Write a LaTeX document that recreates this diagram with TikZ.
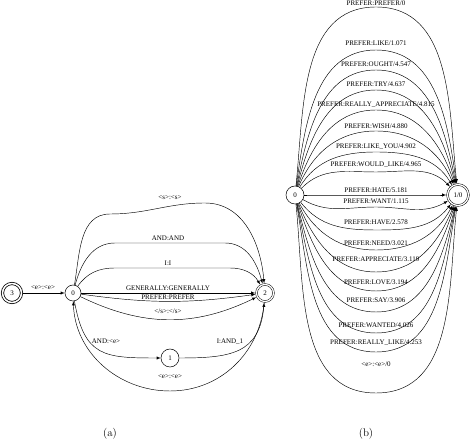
\documentclass[tikz,border=0pt]{standalone}
\usepackage{fontspec}
\newfontfamily\gvfont{Liberation Serif}

\begin{document}
\begin{tikzpicture}[
        x=1pt, y=1pt,
        state/.style={draw, circle, inner sep=0pt, minimum size=16pt, line width=0.5pt,
                      font=\gvfont\fontsize{7}{8}\selectfont},
        final/.style={state, double, double distance=1.3pt, outer sep=1.2pt, minimum size=17pt},
        start/.style={final, line width=0.8pt, double distance=1.5pt, outer sep=1.6pt, minimum size=19pt},
        trans/.style={draw, -latex, line width=0.45pt},
        lbl/.style={inner sep=0pt, font=\gvfont\fontsize{7}{8}\selectfont}
      ]
      \useasboundingbox (0,0) rectangle (474,444);

      % (a)
      \node[start] (a3) at (12,151) {3};
      \node[state] (a0) at (73,151) {0};
      \node[state, minimum size=18pt] (a1) at (170,86) {1};
      \node[final] (a2) at (265,151) {2};

      \draw[trans] (a3) -- (a0);
      \node[lbl] at (43,156) {<e>:<e>};

      \draw[trans] (a0) to[out=80, in=180] (110,230) to[out=0, in=180] (205,241) to[out=0, in=95] (a2);
      \node[lbl] at (170,246) {<s>:<s>};
      \draw[trans] (a0) to[out=75, in=180] (115,201) -- (225,201) to[out=0, in=105] (a2);
      \node[lbl] at (168,206) {AND:AND};
      \draw[trans] (a0) to[out=55, in=180] (115,176) -- (230,176) to[out=0, in=120] (a2);
      \node[lbl] at (168,181) {I:I};
      \draw[trans] (a0) -- (a2);
      \node[lbl] at (168,156) {GENERALLY:GENERALLY};
      \draw[trans] (a0) to[out=-8, in=188] (a2);
      \node[lbl] at (168,147) {PREFER:PREFER};
      \draw[trans] (a0) to[out=-26, in=206] (a2);
      \node[lbl] at (168,133) {</s>:</s>};

      \draw[trans] (a0) to[out=-80, in=180, looseness=1.4] (a1);
      \node[lbl] at (106,103) {AND:<e>};
      \draw[trans] (a1) to[out=0, in=-95, looseness=1.3] (a2);
      \node[lbl] at (230,102) {I:AND\_1};
      \draw[trans] (a2) to[out=-95, in=0] (170,53) to[out=180, in=-88] (a0);
      \node[lbl] at (170,67) {<e>:<e>};

      % (b)
      \node[state, minimum size=18pt] (b0) at (295,249) {0};
      \node[final, minimum size=21pt] (b1) at (458,249) {1/0};

      \foreach \w/\c/\ly/\cy/\oa in {
          PREFER/0/441/437/84,
          LIKE/1.071/401/394/82,
          OUGHT/4.547/380/374/79,
          TRY/4.637/360/354/76,
          REALLY\_APPRECIATE/4.815/339/334/72,
          WISH/4.880/318/313/67,
          LIKE\_YOU/4.902/297/292/59,
          WOULD\_LIKE/4.965/279/272/46,
          HATE/5.181/254/249/0,
          WANT/1.115/243/237/-30,
          HAVE/2.578/222/214/-52,
          NEED/3.021/201/194/-62,
          APPRECIATE/3.119/185/172/-68,
          LOVE/3.194/162/153/-72,
          SAY/3.906/144/132/-76,
          WANTED/4.026/119/111/-78,
          REALLY\_LIKE/4.253/101/92/-80}
      {
        \pgfmathtruncatemacro\ia{180-\oa}
        \draw[trans] (b0) to[out=\oa, in=180] (376,\cy) to[out=0, in=\ia] (b1);
        \node[lbl] at (376,\ly) {PREFER:\w/\c};
      }
      \draw[trans] (b0) to[out=-84, in=180] (376,51) to[out=0, in=-96] (b1);
      \node[lbl] at (376,80) {<e>:<e>/0};

      \node[font=\fontsize{11}{13}\selectfont] (capa) at (110,10) {(a)};
      \node[font=\fontsize{11}{13}\selectfont] (capb) at (366,10) {(b)};

\end{tikzpicture}
\end{document}
